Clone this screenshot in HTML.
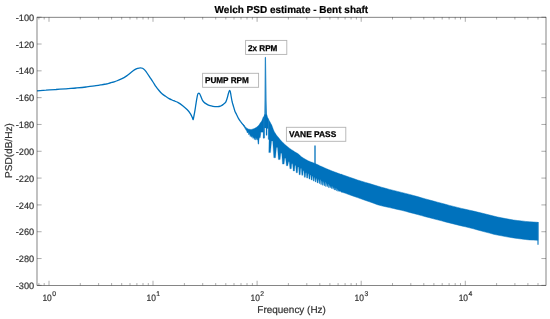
<!DOCTYPE html>
<html><head><meta charset="utf-8"><title>Welch PSD estimate - Bent shaft</title>
<style>html,body{margin:0;padding:0;background:#fff}svg{display:block}</style></head>
<body>
<svg width="550" height="319" viewBox="0 0 550 319" font-family="'Liberation Sans', sans-serif" text-rendering="geometricPrecision">
<rect width="550" height="319" fill="#fff"/>
<g fill="none" stroke="#0072bd" stroke-linejoin="round" stroke-linecap="butt">
<path d="M37.0 90.8C38.5 90.7 42.8 90.4 46.0 90.2C49.2 89.9 52.7 89.7 56.0 89.5C59.3 89.2 62.7 89.0 66.0 88.8C69.3 88.5 72.7 88.3 76.0 88.0C79.3 87.7 82.7 87.4 86.0 87.0C89.3 86.6 93.5 86.1 96.0 85.7C98.5 85.3 99.6 85.1 101.3 84.8C103.0 84.6 104.5 84.3 106.0 84.0C107.5 83.6 108.8 83.3 110.0 83.0C111.2 82.7 112.4 82.3 113.5 82.0C114.6 81.6 115.1 81.5 116.5 81.0C117.9 80.5 120.3 79.5 122.0 78.7C123.7 77.9 125.2 76.9 126.7 75.9C128.2 74.9 129.7 73.5 131.0 72.5C132.3 71.5 133.3 70.6 134.4 69.9C135.5 69.2 136.5 68.8 137.5 68.4C138.5 68.1 139.4 67.8 140.2 67.8C141.0 67.8 141.8 67.9 142.5 68.3C143.2 68.7 143.8 69.1 144.6 69.9C145.3 70.7 146.2 71.8 147.0 73.0C147.8 74.2 148.6 75.4 149.6 76.9C150.6 78.4 151.9 80.4 153.0 82.0C154.1 83.6 155.0 85.3 156.0 86.7C157.0 88.1 158.0 89.3 159.0 90.5C160.0 91.7 161.1 93.0 162.0 93.8C162.9 94.6 163.3 94.8 164.5 95.6C165.7 96.4 167.6 97.8 169.1 98.6C170.6 99.4 172.1 100.0 173.6 100.7C175.1 101.4 176.7 101.8 178.2 102.6C179.7 103.4 181.2 104.5 182.7 105.7C184.2 106.9 186.0 108.5 187.3 109.8C188.6 111.1 189.7 112.5 190.5 113.8C191.3 115.1 191.9 116.5 192.3 117.4C192.8 118.4 192.9 119.9 193.2 119.5C193.5 119.1 193.8 116.5 194.1 115.0C194.4 113.5 194.7 111.8 195.0 110.2C195.3 108.6 195.5 107.0 195.7 105.5C195.9 104.0 196.2 102.5 196.4 101.1C196.6 99.7 196.9 98.3 197.1 97.2C197.3 96.1 197.5 95.0 197.7 94.4C197.9 93.8 198.1 93.6 198.3 93.4C198.5 93.2 198.7 93.0 198.9 93.1C199.2 93.2 199.5 93.4 199.8 94.0C200.1 94.6 200.6 95.8 200.9 96.6C201.2 97.4 201.5 98.1 201.8 98.8C202.1 99.5 202.3 100.0 202.7 100.6C203.1 101.2 203.5 101.7 204.0 102.2C204.5 102.7 204.9 103.0 205.5 103.4C206.1 103.8 206.8 104.2 207.5 104.6C208.2 105.0 209.1 105.3 210.0 105.6C210.9 105.9 211.9 106.1 213.0 106.3C214.1 106.5 215.3 106.7 216.3 106.7C217.3 106.7 218.2 106.7 219.0 106.5C219.8 106.3 220.6 106.1 221.3 105.7C222.1 105.3 222.8 104.7 223.5 104.2C224.2 103.7 224.8 103.3 225.3 102.7C225.8 102.1 226.1 101.4 226.4 100.5C226.8 99.6 227.1 98.5 227.4 97.4C227.7 96.4 227.9 95.2 228.2 94.2C228.5 93.2 228.8 92.2 229.0 91.6C229.2 91.0 229.4 90.5 229.6 90.5C229.8 90.5 230.1 90.8 230.3 91.6C230.5 92.3 230.7 93.8 230.9 95.0C231.1 96.2 231.4 97.8 231.6 99.0C231.8 100.2 232.0 101.0 232.3 102.3C232.6 103.6 233.2 105.3 233.6 106.8C234.0 108.3 234.5 110.2 235.0 111.4C235.5 112.6 235.8 113.0 236.4 114.2C237.0 115.4 237.9 117.4 238.6 118.6C239.3 119.8 239.6 120.2 240.4 121.3C241.2 122.3 242.5 124.1 243.2 124.9C243.9 125.8 244.3 126.2 244.5 126.4" stroke-width="1.3"/>
</g>
<g fill="#0072bd" stroke="#0072bd" stroke-width="0.5" stroke-linejoin="round">
<polygon points="243.2,124.4 243.9,125.2 244.6,126.1 245.3,126.8 246.0,127.5 246.7,128.2 247.4,128.6 248.1,129.0 248.8,129.2 249.5,129.3 250.2,129.4 250.9,129.5 251.6,129.4 252.3,129.2 253.0,129.0 253.7,128.8 254.4,128.5 255.1,128.1 255.8,127.7 256.5,127.3 257.2,126.7 257.9,126.1 258.6,125.4 259.3,124.6 260.0,123.6 260.7,122.6 260.7,134.0 260.0,138.0 259.3,137.1 258.6,139.6 257.9,137.9 257.2,140.1 256.5,138.1 255.8,140.1 255.1,137.5 254.4,139.6 253.7,137.0 253.0,138.4 252.3,135.9 251.6,137.3 250.9,135.3 250.2,136.5 249.5,133.6 248.8,134.8 248.1,132.0 247.4,133.0 246.7,131.1 246.0,130.0 245.3,128.8 244.6,127.7 243.9,126.3 243.2,124.8"/>
<polygon points="257.6,138.0 257.9,143.2 258.4,144.4 258.9,143.2 259.2,138.0" stroke-width="0.2"/>
<polygon points="260.0,123.8 261.8,120.6 263.3,117.0 263.3,132.2 260.0,132.2" stroke-width="0.2"/>
<polygon points="263.1,117.4 264.7,114.8 264.7,137.6 263.9,138.8 263.1,137.6" stroke-width="0.2"/>
<polygon points="266.6,114.8 267.7,117.4 268.4,119.0 268.4,128.5 266.6,128.5" stroke-width="0.2"/>
<polygon points="264.4,114.5 267.1,114.8 267.1,134.8 266.6,135.8 266.0,134.8 266.0,128.0 264.4,128.0" stroke-width="0.2"/>
<polygon points="268.2,118.4 269.1,120.2 270.0,121.8 270.9,123.4 271.8,125.1 272.7,127.5 273.6,130.0 274.5,131.9 275.4,133.3 276.3,134.8 277.2,135.9 278.1,137.0 279.0,138.1 279.9,139.3 280.8,140.3 281.7,141.2 282.6,142.2 283.5,143.1 284.4,143.9 285.3,144.7 286.2,145.5 287.1,146.3 288.0,147.0 288.9,147.7 289.8,148.4 290.7,149.0 291.6,149.7 292.5,150.2 293.4,150.8 294.3,151.4 295.2,152.0 296.1,152.5 297.0,153.0 297.9,153.6 298.8,154.3 299.7,155.1 300.6,156.0 301.5,156.7 302.4,157.3 303.3,157.9 304.2,158.4 305.1,159.0 306.0,159.6 306.9,160.1 307.8,160.5 308.7,160.9 309.6,161.3 310.5,161.7 311.4,162.0 312.3,162.3 313.2,162.7 314.1,163.0 315.0,163.4 315.9,163.8 316.8,164.2 317.7,164.6 318.6,165.0 319.5,165.4 320.4,165.9 321.3,166.3 322.2,166.7 323.1,167.1 324.0,167.5 324.9,167.9 325.8,168.3 326.7,168.7 327.6,169.1 328.5,169.5 329.4,169.8 330.3,170.2 331.2,170.5 332.1,170.9 333.0,171.2 333.9,171.6 334.8,171.9 335.7,172.2 336.6,172.6 337.5,172.9 338.4,173.3 339.3,173.6 340.2,173.9 341.1,174.2 342.0,174.5 342.0,191.9 342.0,191.6 341.8,191.6 341.6,192.2 341.1,192.2 340.9,191.0 340.7,191.1 340.5,191.5 340.0,191.5 339.8,191.2 339.6,191.2 339.4,191.3 338.9,191.4 338.7,190.6 338.4,190.6 338.2,191.3 337.7,191.3 337.5,189.5 337.2,189.5 337.0,190.7 336.5,190.7 336.3,188.5 336.0,188.5 335.8,190.1 335.3,190.1 335.1,187.8 334.8,187.8 334.6,189.9 334.0,189.9 333.8,187.7 333.5,187.7 333.3,188.8 332.7,188.8 332.5,186.4 332.2,186.4 332.0,188.4 331.4,188.4 331.1,186.2 330.8,186.2 330.6,187.5 330.0,187.5 329.8,185.5 329.4,185.5 329.2,187.7 328.6,187.7 328.3,184.0 328.0,184.0 327.7,186.6 327.1,186.6 326.8,183.5 326.5,183.5 326.2,186.5 325.6,186.5 325.3,182.3 325.0,182.3 324.7,185.7 324.0,185.7 323.7,181.8 323.4,181.8 323.1,185.2 322.4,185.2 322.1,181.3 321.7,181.3 321.4,184.4 320.7,184.4 320.4,179.8 320.0,179.7 319.7,183.5 319.0,183.5 318.6,179.5 318.2,179.5 317.9,183.0 317.2,183.0 316.8,178.6 316.4,178.6 316.0,182.0 315.3,182.0 314.9,177.6 314.5,177.6 314.1,181.1 313.3,181.1 312.9,176.2 312.4,176.2 312.1,180.0 311.2,180.0 310.8,174.9 310.3,174.9 309.9,179.1 309.0,179.1 308.6,173.8 308.1,173.8 307.7,178.1 306.7,178.1 306.3,172.8 305.8,172.8 305.3,177.3 304.3,177.3 303.9,170.7 303.3,170.7 302.8,175.3 301.8,175.3 301.3,168.6 300.7,168.6 300.2,174.8 299.1,174.8 298.6,167.1 297.9,167.1 297.4,172.8 296.2,172.8 295.7,165.4 295.0,165.4 294.5,171.0 293.2,171.0 292.6,163.8 291.8,163.8 291.3,168.8 289.9,168.8 289.2,161.8 288.5,161.8 287.8,165.8 286.4,165.8 285.6,158.3 284.8,158.3 284.1,164.1 282.5,164.1 281.7,153.2 280.8,153.2 280.1,159.6 278.4,159.6 277.5,147.4 276.5,147.4 275.5,157.8 273.8,157.8 272.7,141.1 271.6,141.1 270.5,152.6 268.8,152.6 269.0,139.7 268.2,139.3" stroke-width="0.3"/>
<polygon points="341.5,174.4 345.5,175.8 349.5,177.2 353.5,178.6 357.5,180.0 361.5,181.2 365.5,182.4 369.5,183.6 373.5,184.8 377.5,186.0 381.5,187.2 385.5,188.3 389.5,189.4 393.5,190.4 397.5,191.4 401.5,192.4 405.5,193.4 409.5,194.4 413.5,195.5 417.5,196.6 421.5,197.8 425.5,198.9 429.5,200.0 433.5,201.1 437.5,202.2 441.5,203.2 445.5,204.3 449.5,205.4 453.5,206.4 457.5,207.4 461.5,208.4 465.5,209.3 469.5,210.2 473.5,211.1 477.5,212.1 481.5,213.0 485.5,214.0 489.5,215.0 493.5,216.0 497.5,217.0 501.5,217.8 505.5,218.6 509.5,219.3 513.5,220.0 517.5,220.5 521.5,220.9 525.5,221.4 529.5,221.8 533.5,222.0 537.5,222.3 537.9,222.3 537.9,240.3 537.5,240.3 533.5,240.1 529.5,239.9 525.5,239.5 521.5,239.0 517.5,238.5 513.5,237.9 509.5,237.3 505.5,236.6 501.5,235.8 497.5,235.1 493.5,234.2 489.5,233.1 485.5,232.1 481.5,231.0 477.5,229.9 473.5,228.8 469.5,227.8 465.5,226.8 461.5,225.9 457.5,224.9 453.5,223.9 449.5,222.9 445.5,221.9 441.5,220.8 437.5,219.8 433.5,218.8 429.5,217.7 425.5,216.7 421.5,215.6 417.5,214.5 413.5,213.4 409.5,212.4 405.5,211.3 401.5,210.3 397.5,209.4 393.5,208.5 389.5,207.6 385.5,206.7 381.5,205.8 377.5,204.7 373.5,203.2 369.5,201.8 365.5,200.4 361.5,199.0 357.5,197.6 353.5,196.2 349.5,194.8 345.5,193.3 341.5,192.0"/>
</g>
<g stroke="#0072bd" fill="none">
<polygon points="264.8,57.6 265.4,56.8 266.0,57.6 266.55,100 266.95,113 267.1,128 264.4,128 264.35,113 264.55,100" fill="#0072bd" fill-opacity="0.85" stroke="none"/>
<path d="M315 145.5V165" stroke-width="1.3"/>
<path d="M538 222V244.7" stroke-width="1.1"/>
</g>
<g stroke="#2e2e2e" fill="none" stroke-width="0.58">
<rect x="37.0" y="17.2" width="509.0" height="268.2"/>
<path d="M38.9 285.35v-2.3M38.9 17.2v2.3M44.2 285.35v-2.3M44.2 17.2v2.3M49.0 285.35v-4.6M49.0 17.2v4.6M80.3 285.35v-2.3M80.3 17.2v2.3M98.6 285.35v-2.3M98.6 17.2v2.3M111.6 285.35v-2.3M111.6 17.2v2.3M121.7 285.35v-2.3M121.7 17.2v2.3M130.0 285.35v-2.3M130.0 17.2v2.3M136.9 285.35v-2.3M136.9 17.2v2.3M143.0 285.35v-2.3M143.0 17.2v2.3M148.3 285.35v-2.3M148.3 17.2v2.3M153.0 285.35v-4.6M153.0 17.2v4.6M184.4 285.35v-2.3M184.4 17.2v2.3M202.7 285.35v-2.3M202.7 17.2v2.3M215.7 285.35v-2.3M215.7 17.2v2.3M225.8 285.35v-2.3M225.8 17.2v2.3M234.0 285.35v-2.3M234.0 17.2v2.3M241.0 285.35v-2.3M241.0 17.2v2.3M247.0 285.35v-2.3M247.0 17.2v2.3M252.4 285.35v-2.3M252.4 17.2v2.3M257.1 285.35v-4.6M257.1 17.2v4.6M288.4 285.35v-2.3M288.4 17.2v2.3M306.8 285.35v-2.3M306.8 17.2v2.3M319.8 285.35v-2.3M319.8 17.2v2.3M329.9 285.35v-2.3M329.9 17.2v2.3M338.1 285.35v-2.3M338.1 17.2v2.3M345.1 285.35v-2.3M345.1 17.2v2.3M351.1 285.35v-2.3M351.1 17.2v2.3M356.4 285.35v-2.3M356.4 17.2v2.3M361.2 285.35v-4.6M361.2 17.2v4.6M392.5 285.35v-2.3M392.5 17.2v2.3M410.8 285.35v-2.3M410.8 17.2v2.3M423.8 285.35v-2.3M423.8 17.2v2.3M433.9 285.35v-2.3M433.9 17.2v2.3M442.2 285.35v-2.3M442.2 17.2v2.3M449.1 285.35v-2.3M449.1 17.2v2.3M455.2 285.35v-2.3M455.2 17.2v2.3M460.5 285.35v-2.3M460.5 17.2v2.3M465.3 285.35v-4.6M465.3 17.2v4.6M496.6 285.35v-2.3M496.6 17.2v2.3M514.9 285.35v-2.3M514.9 17.2v2.3M527.9 285.35v-2.3M527.9 17.2v2.3M538.0 285.35v-2.3M538.0 17.2v2.3M37.0 17.20h4.6M546.0 17.20h-4.6M37.0 44.02h4.6M546.0 44.02h-4.6M37.0 70.83h4.6M546.0 70.83h-4.6M37.0 97.65h4.6M546.0 97.65h-4.6M37.0 124.46h4.6M546.0 124.46h-4.6M37.0 151.28h4.6M546.0 151.28h-4.6M37.0 178.09h4.6M546.0 178.09h-4.6M37.0 204.91h4.6M546.0 204.91h-4.6M37.0 231.72h4.6M546.0 231.72h-4.6M37.0 258.54h4.6M546.0 258.54h-4.6M37.0 285.35h4.6M546.0 285.35h-4.6" stroke-width="0.4"/>
</g>
<g fill="#333" stroke="#333" stroke-width="0.2" font-size="9.2">
<text x="34.2" y="20.6" text-anchor="end">-100</text>
<text x="34.2" y="47.5" text-anchor="end">-120</text>
<text x="34.2" y="74.3" text-anchor="end">-140</text>
<text x="34.2" y="101.2" text-anchor="end">-160</text>
<text x="34.2" y="128.0" text-anchor="end">-180</text>
<text x="34.2" y="154.9" text-anchor="end">-200</text>
<text x="34.2" y="181.7" text-anchor="end">-220</text>
<text x="34.2" y="208.6" text-anchor="end">-240</text>
<text x="34.2" y="235.4" text-anchor="end">-260</text>
<text x="34.2" y="262.3" text-anchor="end">-280</text>
<text x="34.2" y="289.1" text-anchor="end">-300</text>
<text x="42.38" y="300.6" textLength="9.4" lengthAdjust="spacingAndGlyphs">10</text><text x="52.18" y="295.6" font-size="6.8">0</text>
<text x="146.45" y="300.6" textLength="9.4" lengthAdjust="spacingAndGlyphs">10</text><text x="156.25" y="295.6" font-size="6.8">1</text>
<text x="250.52" y="300.6" textLength="9.4" lengthAdjust="spacingAndGlyphs">10</text><text x="260.32" y="295.6" font-size="6.8">2</text>
<text x="354.59" y="300.6" textLength="9.4" lengthAdjust="spacingAndGlyphs">10</text><text x="364.39" y="295.6" font-size="6.8">3</text>
<text x="458.66" y="300.6" textLength="9.4" lengthAdjust="spacingAndGlyphs">10</text><text x="468.46" y="295.6" font-size="6.8">4</text>
</g>
<g fill="#333" stroke="#333" stroke-width="0.2" font-size="10">
<text x="291.6" y="313.3" text-anchor="middle" textLength="68.6" lengthAdjust="spacingAndGlyphs">Frequency (Hz)</text>
<text transform="translate(11.6 150.6) rotate(-90)" text-anchor="middle" textLength="54.8" lengthAdjust="spacingAndGlyphs">PSD(dB/Hz)</text>
</g>
<text x="291.4" y="12.7" text-anchor="middle" font-size="10.2" font-weight="bold" fill="#000" stroke="#000" stroke-width="0.2" textLength="153.6" lengthAdjust="spacingAndGlyphs">Welch PSD estimate - Bent shaft</text>
<rect x="202.6" y="73.3" width="56.0" height="14.0" fill="#fff" stroke="#b2b2b2" stroke-width="0.9"/>
<text x="205.0" y="83.2" font-size="8.4" font-weight="bold" fill="#000" stroke="#000" stroke-width="0.25" textLength="43.8" lengthAdjust="spacingAndGlyphs">PUMP RPM</text>
<rect x="245.6" y="40.4" width="41.2" height="14.0" fill="#fff" stroke="#b2b2b2" stroke-width="0.9"/>
<text x="248.0" y="50.8" font-size="8.4" font-weight="bold" fill="#000" stroke="#000" stroke-width="0.25" textLength="29.4" lengthAdjust="spacingAndGlyphs">2x RPM</text>
<rect x="286.4" y="127.3" width="59.4" height="14.0" fill="#fff" stroke="#b2b2b2" stroke-width="0.9"/>
<text x="289.1" y="137.4" font-size="8.4" font-weight="bold" fill="#000" stroke="#000" stroke-width="0.25" textLength="47.2" lengthAdjust="spacingAndGlyphs">VANE PASS</text>
</svg>
</body></html>
